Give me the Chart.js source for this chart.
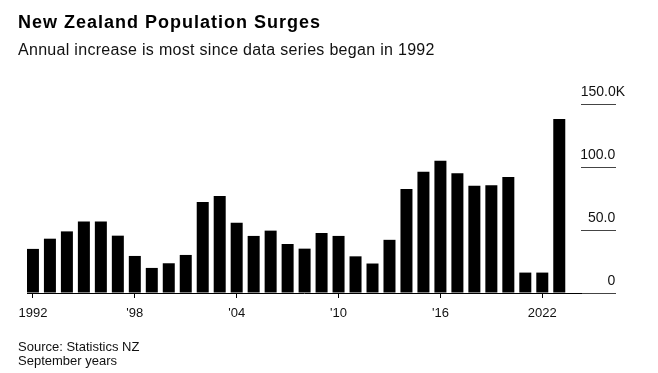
<!DOCTYPE html>
<html>
<head>
<meta charset="utf-8">
<script src="https://cdn.jsdelivr.net/npm/chart.js@4.4.0/dist/chart.umd.min.js"></script>
<style>
  html, body { margin: 0; padding: 0; background: #fff; }
  body { width: 658px; height: 373px; position: relative; overflow: hidden; font-family: "Liberation Sans", Arial, sans-serif; color: #111; }
  #c { position: absolute; left: 0; top: 0; }
  .t { position: absolute; left: 18px; white-space: nowrap; line-height: 1; }
  #title { top: 13px; font-size: 18px; font-weight: bold; letter-spacing: 1px; color: #000; }
  #subtitle { top: 41.5px; font-size: 16px; letter-spacing: 0.3px; color: #111; }
  #source { top: 340px; font-size: 13px; line-height: 13.5px; color: #111; }
</style>
</head>
<body>
<canvas id="c" width="658" height="373"></canvas>
<div class="t" id="title">New Zealand Population Surges</div>
<div class="t" id="subtitle">Annual increase is most since data series began in 1992</div>
<div class="t" id="source">Source: Statistics NZ<br>September years</div>
<script>
// Data (annual population increase, thousands; September years)
const years = [1992, 1993, 1994, 1995, 1996, 1997, 1998, 1999, 2000, 2001, 2002, 2003, 2004, 2005, 2006, 2007,
               2008, 2009, 2010, 2011, 2012, 2013, 2014, 2015, 2016, 2017, 2018, 2019, 2020, 2021, 2022, 2023];
const increase = [35.0, 43.1, 48.9, 56.8, 56.8, 45.5, 29.4, 19.9, 23.6, 30.2, 72.2, 76.9, 55.8, 45.3, 49.5, 38.9,
                  35.2, 47.6, 45.3, 29.1, 23.4, 42.2, 82.5, 96.2, 104.9, 95.1, 85.1, 85.6, 92.0, 16.2, 16.2, 138.1];
const xTickValues = [1992, 1998, 2004, 2010, 2016, 2022];
const xTickLabels = ['1992', "'98", "'04", "'10", "'16", '2022'];
const yTickValues = [0, 50, 100, 150];
const yTickLabels = ['0\u2002\u2009', '50.0\u2002\u2009', '100.0\u2002\u2009', '150.0K'];

const points = years.map((yr, i) => ({ x: yr, y: increase[i] }));
const FONT = "'Liberation Sans', Arial, sans-serif";

new Chart(document.getElementById('c'), {
  type: 'bar',
  data: {
    datasets: [{
      data: points,
      backgroundColor: '#000',
      borderWidth: 0,
      barPercentage: 0.707,
      categoryPercentage: 1
    }]
  },
  options: {
    responsive: false,
    animation: false,
    devicePixelRatio: 1,
    layout: { padding: { top: 104, left: 27, right: 33, bottom: 0 } },
    plugins: { legend: { display: false }, tooltip: { enabled: false }, title: { display: false } },
    scales: {
      x: {
        type: 'linear',
        min: 1991.65,
        max: 2024.28,
        offset: false,
        afterBuildTicks: (scale) => { scale.ticks = xTickValues.map(v => ({ value: v })); },
        afterFit: (scale) => { scale.height = 80; },
        grid: { offset: false, drawOnChartArea: false, drawTicks: true, tickLength: 5, color: '#000', lineWidth: 1 },
        border: { display: true, color: '#000', width: 1 },
        ticks: {
          autoSkip: false, maxRotation: 0, padding: 8, color: '#111',
          font: { family: FONT, size: 13 },
          callback: (v) => { const i = xTickValues.indexOf(v); return i >= 0 ? xTickLabels[i] : ''; }
        }
      },
      y: {
        type: 'linear',
        position: 'right',
        min: 0,
        max: 150,
        afterBuildTicks: (scale) => { scale.ticks = yTickValues.map(v => ({ value: v })); },
        afterFit: (scale) => { scale.width = 44; },
        grid: { drawOnChartArea: false, drawTicks: true, tickLength: 35, color: '#444', lineWidth: 1 },
        border: { display: false },
        ticks: {
          crossAlign: 'far', labelOffset: -12, padding: 0, color: '#111',
          font: { family: FONT, size: 14 },
          callback: (v) => { const i = yTickValues.indexOf(v); return i >= 0 ? yTickLabels[i] : ''; }
        }
      }
    }
  }
});
</script>
</body>
</html>
